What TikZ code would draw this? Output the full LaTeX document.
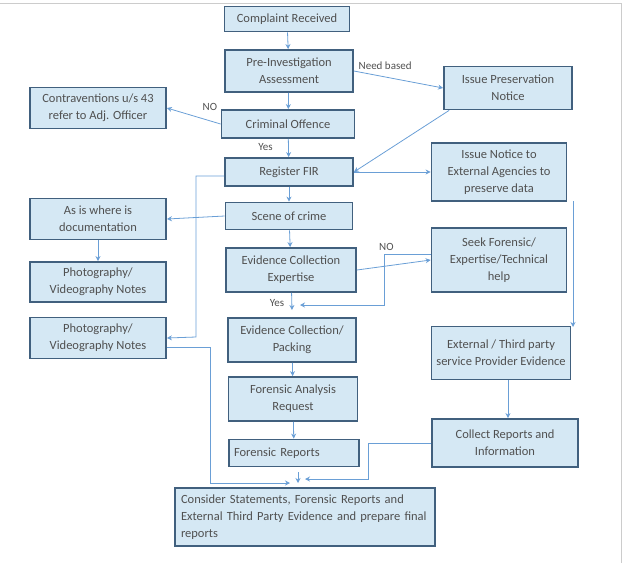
\documentclass[tikz,border=0pt]{standalone}
\usepackage{fontspec}
\setmainfont{Carlito}
\usepackage{xcolor}
\usetikzlibrary{arrows.meta}
\definecolor{boxfill}{HTML}{D5E8F4}
\definecolor{boxline}{HTML}{41607E}
\definecolor{arrowblue}{HTML}{6A9FD6}
\definecolor{textgray}{HTML}{505050}
\tikzset{
  stage/.style={draw=boxline, line width=1.8pt, fill=boxfill, text=textgray,
    align=center, inner sep=2pt, font=\fontsize{12.5}{17}\selectfont},
  flow/.style={draw=arrowblue, line width=0.8pt, -{Stealth[length=5pt,width=5pt]}},
  tag/.style={text=textgray, font=\fontsize{11}{13}\selectfont}
}
\begin{document}
\begin{tikzpicture}[x=1pt,y=-1pt]
  \useasboundingbox (0,0) rectangle (628,563);
  \draw[gray!40] (0,3) -- (621,3) -- (621,563);

  % centre column
  \node[stage, minimum width=125pt, minimum height=25pt] (complaint) at (287,19) {Complaint Received};
  \node[stage, minimum width=128pt, minimum height=42pt] (preinv) at (289,71) {Pre-Investigation\\Assessment};
  \node[stage, minimum width=133pt, minimum height=28pt] (offence) at (288,124) {Criminal Offence};
  \node[stage, minimum width=128pt, minimum height=28pt] (fir) at (289,172) {Register FIR};
  \node[stage, minimum width=127pt, minimum height=27pt] (scene) at (289,216) {Scene of crime};
  \node[stage, minimum width=130pt, minimum height=44pt] (expertise) at (291,270) {Evidence Collection\\Expertise};
  \node[stage, minimum width=128pt, minimum height=44pt] (packing) at (292,340) {Evidence Collection/\\Packing};
  \node[stage, minimum width=129pt, minimum height=44pt] (request) at (293,399) {Forensic Analysis\\Request};
  \node[stage, minimum width=130pt, minimum height=27pt, text width=120pt, align=left] (freports) at (294,453) {Forensic Reports};
  \node[stage, minimum width=260pt, minimum height=58pt, text width=248pt, align=left] (final) at (305,517)
    {\makebox[248pt][s]{Consider Statements, Forensic Reports and}\\
     \makebox[248pt][s]{External Third Party Evidence and prepare final}\\
     reports};

  % right column
  \node[stage, minimum width=128pt, minimum height=43pt] (preserve) at (508,88) {Issue Preservation\\Notice};
  \node[stage, minimum width=135pt, minimum height=58pt] (notice) at (499,172) {Issue Notice to\\External Agencies to\\preserve data};
  \node[stage, minimum width=135pt, minimum height=64pt] (seek) at (499,260) {Seek Forensic/\\Expertise/Technical\\help};
  \node[stage, minimum width=139pt, minimum height=53pt] (thirdparty) at (501,353) {External / Third party\\service Provider Evidence};
  \node[stage, minimum width=146pt, minimum height=48pt] (collect) at (505,443) {Collect Reports and\\Information};

  % left column
  \node[stage, minimum width=136pt, minimum height=41pt] (contra) at (98,108) {Contraventions u/s 43\\refer to Adj. Officer};
  \node[stage, minimum width=136pt, minimum height=41pt] (asis) at (98,219) {As is where is\\documentation};
  \node[stage, minimum width=136pt, minimum height=40pt] (photoa) at (98,282) {Photography/\\Videography Notes};
  \node[stage, minimum width=136pt, minimum height=41pt] (photob) at (98,338) {Photography/\\Videography Notes};

  % free ends
  \coordinate (yesend) at (292,310);
  \coordinate (seekend) at (300,305);
  \coordinate (finala) at (290,483);
  \coordinate (finalb) at (298,483);
  \coordinate (finalc) at (305,479);
  \coordinate (frtop) at (298,472);

  % connectors
  \draw[flow] (complaint) -- (preinv);
  \draw[flow] (preinv) -- (offence);
  \draw[flow] (preinv.east) -- node[tag, above, pos=0.35, yshift=4pt] {Need based} (preserve.west);
  \draw[flow] (offence.west) -- node[tag, above, pos=0.2, yshift=6pt] {NO} (contra.east);
  \draw[flow] (offence) -- node[tag, left, pos=0.45, xshift=-12pt] {Yes} (fir);
  \draw[flow] ([xshift=6pt]preserve.south west) -- (fir.east);
  \draw[flow] (fir.east) -- (notice.west);
  \draw[flow] (fir) -- (scene);
  \draw[flow] (scene.west) -- (asis.east);
  \draw[flow] (asis) -- (photoa);
  \draw[flow] ([yshift=-4pt]fir.west) -| (196,337) -- (photob.east);
  \draw[flow] (scene) -- (expertise);
  \draw[flow] (expertise.east) -- node[tag, above, pos=0.4, yshift=12pt] {NO} (seek.west);
  \draw[flow] (expertise) -- node[tag, left, pos=0.6, xshift=-4pt] {Yes} (yesend);
  \draw[flow] ([yshift=6pt]seek.west) -| (384,305) -- (seekend);
  \draw[flow] (packing) -- (request);
  \draw[flow] (request) -- (freports);
  \draw[flow] (573,201) -- (573,327);
  \draw[flow] ([xshift=7pt]thirdparty.south) -- ([xshift=3pt]collect.north);
  \draw[flow] ([yshift=-9pt]photob.east) -| (210,483) -- (finala);
  \draw[flow] (frtop) -- (finalb);
  \draw[flow] (collect.west) -| (368,479) -- (finalc);
\end{tikzpicture}
\end{document}
